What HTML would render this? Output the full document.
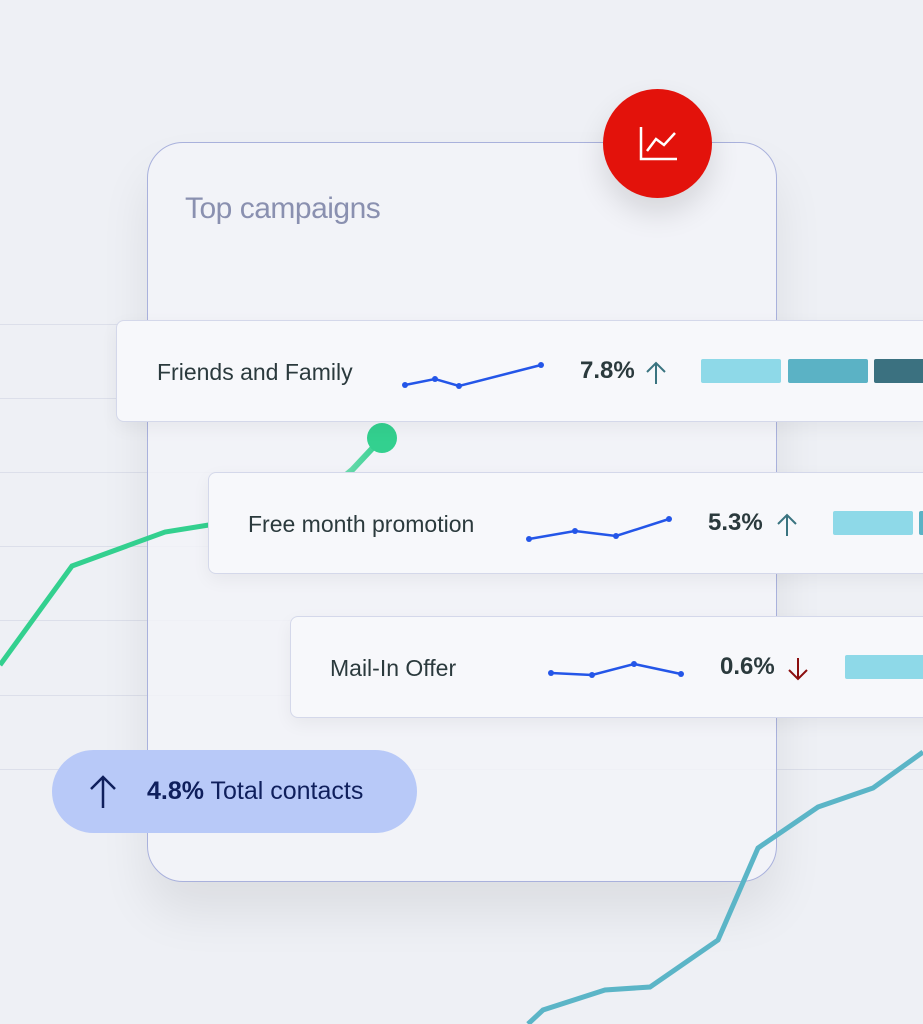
<!DOCTYPE html>
<html><head><style>
body{margin:0;width:923px;height:1024px;overflow:hidden;background:#eef0f5;font-family:"Liberation Sans",sans-serif;position:relative}
.grid{position:absolute;left:0;width:923px;height:1px;background:#dcdfea}
.panel{position:absolute;left:147px;top:142px;width:628px;height:738px;border:1px solid #a9b1dc;border-radius:36px;background:rgba(242,243,248,0.85);box-shadow:0 30px 50px rgba(0,0,0,0.08)}
.title{position:absolute;left:185px;top:192px;font-size:30px;color:#8a90b0;letter-spacing:-0.5px}
.row{position:absolute;height:100px;background:#f7f8fb;border:1px solid #d4d8ea;border-radius:8px;box-shadow:0 6px 18px rgba(0,0,0,0.05);overflow:hidden}
.row .name{position:absolute;top:38px;font-size:23px;color:#2b3a3d}
.row .pct{position:absolute;top:36px;font-size:24px;color:#2b3a3d;font-weight:bold}
.arr{position:absolute;top:40px}
.bar{position:absolute;top:38px;height:24px;border-radius:2px}
.pill{position:absolute;left:52px;top:750px;width:365px;height:83px;border-radius:42px;background:#b8c9f8;font-size:25px;color:#0f1f5c}
.icon{position:absolute;left:603px;top:89px;width:109px;height:109px;border-radius:50%;background:#e3120b;box-shadow:0 15px 30px rgba(0,0,0,0.12)}
</style></head><body>
<div class="grid" style="top:324px"></div>
<div class="grid" style="top:398px"></div>
<div class="grid" style="top:472px"></div>
<div class="grid" style="top:546px"></div>
<div class="grid" style="top:620px"></div>
<div class="grid" style="top:695px"></div>
<div class="grid" style="top:769px"></div>
<div class="panel"></div>
<svg width="923" height="1024" style="position:absolute;left:0;top:0">
<defs><linearGradient id="g" x1="210" y1="0" x2="382" y2="0" gradientUnits="userSpaceOnUse"><stop offset="0" stop-color="#33d08f" stop-opacity="0.1"/><stop offset="0.5" stop-color="#33d08f" stop-opacity="0.3"/><stop offset="1" stop-color="#33d08f"/></linearGradient></defs>
<polyline points="0,665 72,566 165,532 215,524" fill="none" stroke="#33d08f" stroke-width="5"/>
<path d="M215,524 C280,510 330,490 352,470 L382,438" fill="none" stroke="url(#g)" stroke-width="6"/>
<circle cx="382" cy="438" r="15" fill="#33d08f"/>
<polyline points="528,1024 543,1010 605,990 650,987 718,940 758,848 818,807 873,788 923,752" fill="none" stroke="#5bb5c7" stroke-width="5"/>
</svg>
<div class="title">Top campaigns</div>
<div class="icon"><svg width="109" height="109"><path d="M38,38 V70 H74" fill="none" stroke="#fff" stroke-width="2.5"/><polyline points="44,62 53,50 61,56 72,44" fill="none" stroke="#fff" stroke-width="2.5"/></svg></div>
<div class="row" style="left:116px;top:320px;width:820px">
 <div class="name" style="left:40px">Friends and Family</div>
 <svg style="position:absolute;left:280px;top:38px" width="160" height="40"><polyline points="8,26 38,20 62,27 144,6" fill="none" stroke="#2456e8" stroke-width="2.5"/><g fill="#2456e8"><circle cx="8" cy="26" r="3"/><circle cx="38" cy="20" r="3"/><circle cx="62" cy="27" r="3"/><circle cx="144" cy="6" r="3"/></g></svg>
 <div class="pct" style="left:463px">7.8%</div>
 <svg class="arr" style="left:528px" width="22" height="24"><path d="M11,23 V2 M2,11 L11,2 L20,11" fill="none" stroke="#3a7480" stroke-width="2"/></svg>
 <div class="bar" style="left:584px;width:80px;background:#8ed9e8"></div>
 <div class="bar" style="left:671px;width:80px;background:#5bb2c5"></div>
 <div class="bar" style="left:757px;width:80px;background:#3b7180"></div>
</div>
<div class="row" style="left:208px;top:472px;width:740px">
 <div class="name" style="left:39px">Free month promotion</div>
 <svg style="position:absolute;left:312px;top:38px" width="160" height="40"><polyline points="8,28 54,20 95,25 148,8" fill="none" stroke="#2456e8" stroke-width="2.5"/><g fill="#2456e8"><circle cx="8" cy="28" r="3"/><circle cx="54" cy="20" r="3"/><circle cx="95" cy="25" r="3"/><circle cx="148" cy="8" r="3"/></g></svg>
 <div class="pct" style="left:499px">5.3%</div>
 <svg class="arr" style="left:567px" width="22" height="24"><path d="M11,23 V2 M2,11 L11,2 L20,11" fill="none" stroke="#3a7480" stroke-width="2"/></svg>
 <div class="bar" style="left:624px;width:80px;background:#8ed9e8"></div>
 <div class="bar" style="left:710px;width:80px;background:#5bb2c5"></div>
</div>
<div class="row" style="left:290px;top:616px;width:700px">
 <div class="name" style="left:39px">Mail-In Offer</div>
 <svg style="position:absolute;left:252px;top:38px" width="160" height="40"><polyline points="8,18 49,20 91,9 138,19" fill="none" stroke="#2456e8" stroke-width="2.5"/><g fill="#2456e8"><circle cx="8" cy="18" r="3"/><circle cx="49" cy="20" r="3"/><circle cx="91" cy="9" r="3"/><circle cx="138" cy="19" r="3"/></g></svg>
 <div class="pct" style="left:429px">0.6%</div>
 <svg class="arr" style="left:496px" width="22" height="24"><path d="M11,1 V22 M2,13 L11,22 L20,13" fill="none" stroke="#8b0f0f" stroke-width="2"/></svg>
 <div class="bar" style="left:554px;width:120px;background:#8ed9e8"></div>
</div>
<div class="pill">
 <svg style="position:absolute;left:34px;top:24px" width="34" height="36"><path d="M17,34 V3 M5,15 L17,3 L29,15" fill="none" stroke="#0f1f5c" stroke-width="2.5"/></svg>
 <div style="position:absolute;left:95px;top:27px"><b>4.8%</b> Total contacts</div>
</div>
</body></html>
